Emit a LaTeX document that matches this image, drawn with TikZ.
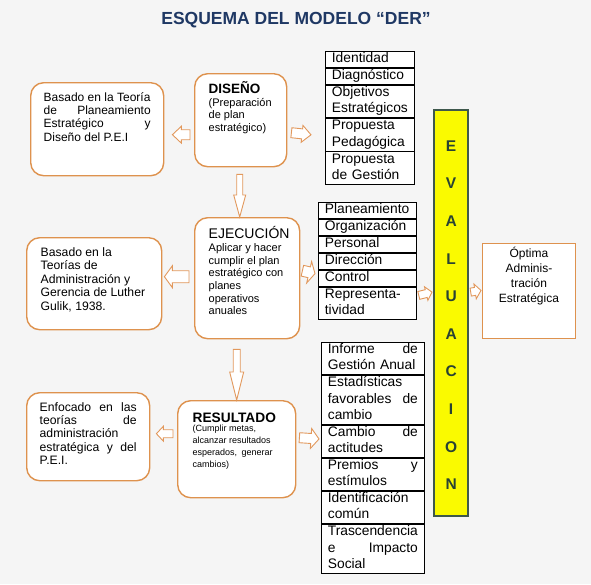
\documentclass[tikz,border=0pt]{standalone}
\usepackage{fontspec}
\setmainfont{Liberation Sans}
\usepackage{tikz}
\usetikzlibrary{positioning, calc}
\definecolor{navy}{RGB}{31, 56, 100}
\definecolor{rim}{RGB}{222, 146, 78}
\definecolor{tip}{RGB}{226, 152, 92}
\definecolor{evalfill}{RGB}{250, 250, 0}
\definecolor{evalrim}{RGB}{62, 88, 76}
\definecolor{evaltext}{RGB}{40, 66, 52}
\definecolor{paper}{RGB}{245, 245, 245}
\newcommand{\boxtext}[3]{\parbox[c][#2][t]{#1}{\raggedright\rule{0pt}{13pt}#3}}
\hyphenpenalty=10000

\begin{document}
\begin{tikzpicture}[x=1pt, y=-1pt,
  rbox/.style={draw=rim, line width=1.4pt, rounded corners=13pt, fill=white, anchor=north west},
  cell/.style={draw, line width=0.8pt, fill=white, text width=#1, inner xsep=6.5pt, inner ysep=0pt,
               align=left, font=\fontsize{13.8}{16.2}\selectfont,
               execute at begin node=\strut, execute at end node=\strut},
  hollow/.style n args={3}{draw=tip, line width=0.9pt, fill=white,
    to path={let \p1=(\tikztostart), \p2=(\tikztotarget),
      \n1={veclen(\x2-\x1,\y2-\y1)}, \n2={(\x2-\x1)/\n1}, \n3={(\y2-\y1)/\n1} in
      ({\x1-\n3*#1},{\y1+\n2*#1})
      -- ({\x1+(\n1-#3)*\n2-\n3*#1},{\y1+(\n1-#3)*\n3+\n2*#1})
      -- ({\x1+(\n1-#3)*\n2-\n3*#2},{\y1+(\n1-#3)*\n3+\n2*#2})
      -- (\p2)
      -- ({\x1+(\n1-#3)*\n2+\n3*#2},{\y1+(\n1-#3)*\n3-\n2*#2})
      -- ({\x1+(\n1-#3)*\n2+\n3*#1},{\y1+(\n1-#3)*\n3-\n2*#1})
      -- ({\x1+\n3*#1},{\y1-\n2*#1}) -- cycle}}]
  \fill[paper] (0,0) rectangle (591,584);
  \useasboundingbox (0,0) rectangle (591,584);

  \node[font=\fontsize{17.5}{20}\selectfont\bfseries, text=navy] (title) at (296,20) {ESQUEMA DEL MODELO “DER”};

  \node[rbox, inner xsep=13pt, inner ysep=5.5pt, font=\fontsize{12}{13.3}\selectfont] (basadoA) at (30,82)
    {\boxtext{107pt}{82pt}{Basado en la Teoría\\ de\hfill Planeamiento\\ Estratégico\hfill y\\ Diseño del P.E.I}};
  \node[rbox, inner xsep=14pt, inner ysep=6.8pt, font=\fontsize{11}{12.7}\selectfont] (diseno) at (194,73)
    {\boxtext{64pt}{79.4pt}{{\fontsize{13.5}{13}\selectfont\bfseries DISEÑO\par}(Preparación\\ de plan\\ estratégico)}};
  \node[rbox, inner xsep=14pt, inner ysep=8pt, font=\fontsize{11}{12.7}\selectfont] (ejec) at (194,217)
    {\boxtext{77pt}{105pt}{{\fontsize{14}{14}\selectfont EJECUCIÓN\par}Aplicar y hacer\\ cumplir el plan\\ estratégico con\\ planes\\ operativos\\ anuales}};
  \node[rbox, inner xsep=14pt, inner ysep=5.5pt, font=\fontsize{12.2}{13.5}\selectfont] (basadoB) at (26,237)
    {\boxtext{107pt}{81pt}{Basado en la\\ Teorías de\\ Administración y\\ Gerencia de Luther\\ Gulik, 1938.}};
  \node[rbox, inner xsep=13pt, inner ysep=5.5pt, font=\fontsize{12.2}{13.3}\selectfont] (basadoC) at (26,392)
    {\boxtext{97pt}{77pt}{Enfocado\hfill en\hfill las\\ teorías\hfill de\\ administración\\ estratégica\hfill y\hfill del\\ P.E.I.}};
  \node[rbox, inner xsep=15pt, inner ysep=9pt, font=\fontsize{9}{12}\selectfont] (res) at (177,400)
    {\boxtext{88pt}{79pt}{{\fontsize{13.7}{14}\selectfont\bfseries RESULTADO\par}\vspace{-3pt}\parbox[t]{80pt}{\raggedright (Cumplir metas,\\ alcanzar resultados\\ esperados,\hfill generar\\ cambios)}}};

  \node[cell=76pt, anchor=north west] (ident) at (325,51) {Identidad};
  \node[cell=76pt, below=0pt of ident] (diagn) {Diagnóstico};
  \node[cell=76pt, below=0pt of diagn] (objet) {Objetivos\\ Estratégicos};
  \node[cell=76pt, below=0pt of objet] (ppeda) {Propuesta\\ Pedagógica};
  \node[cell=76pt, below=0pt of ppeda] (pgest) {Propuesta\\ de Gestión};

  \node[cell=85pt, anchor=north west] (plane) at (318,202) {Planeamiento};
  \node[cell=85pt, below=0pt of plane] (organ) {Organización};
  \node[cell=85pt, below=0pt of organ] (perso) {Personal};
  \node[cell=85pt, below=0pt of perso] (direc) {Dirección};
  \node[cell=85pt, below=0pt of direc] (contr) {Control};
  \node[cell=85pt, below=0pt of contr] (repre) {Representa-\\ tividad};

  \node[cell=90pt, anchor=north west] (infor) at (321,342) {Informe\hfill de\\ Gestión Anual};
  \node[cell=90pt, below=0pt of infor] (estad) {Estadísticas\\ favorables\hfill de\\ cambio};
  \node[cell=90pt, below=0pt of estad] (cambi) {Cambio\hfill de\\ actitudes};
  \node[cell=90pt, below=0pt of cambi] (premi) {Premios\hfill y\\ estímulos};
  \node[cell=90pt, below=0pt of premi] (comun) {Identificación\\ común};
  \node[cell=90pt, below=0pt of comun] (trasc) {Trascendencia\\ e\hfill Impacto\\ Social};

  \node[draw=evalrim, line width=2.2pt, fill=evalfill, minimum width=34pt, minimum height=406pt,
        inner sep=0pt, anchor=north west] (eval) at (433,109) {};
  \node[text=evaltext, font=\fontsize{15.5}{37.6}\selectfont\bfseries, align=center, inner sep=0pt]
    (evalword) at ([yshift=-2pt]eval.center) {E\\V\\A\\L\\U\\A\\C\\I\\O\\N};

  \node[draw=rim, line width=0.9pt, fill=white, anchor=north west, inner xsep=6pt, inner ysep=1.5pt,
        font=\fontsize{12}{14.7}\selectfont] (optima) at (482,243)
    {\boxtext{81pt}{92pt}{\centering Óptima\\ Adminis-\\ tración\\ Estratégica}};

  \draw[hollow={5pt}{8.5pt}{9pt}] ([xshift=-4pt, yshift=-14.5pt]diseno.west) to ([xshift=8pt, yshift=-5.5pt]basadoA.east);
  \draw[hollow={5pt}{8.5pt}{9pt}] ([xshift=4pt, yshift=-12.5pt]diseno.east) to ([xshift=-14pt]ppeda.west);
  \draw[hollow={3pt}{6pt}{22pt}] ([xshift=-1pt, yshift=-7pt]diseno.south) to ([xshift=-7.5pt]ejec.north);
  \draw[hollow={6pt}{11pt}{8pt}] ([xshift=-5pt, yshift=1.5pt]ejec.west) to ([xshift=2pt, yshift=7pt]basadoB.east);
  \draw[hollow={5.5pt}{11pt}{6pt}] ([xshift=2pt, yshift=7.5pt]ejec.east) to ([xshift=-3pt, yshift=4.9pt]contr.west);
  \draw[hollow={3.5pt}{7pt}{28pt}] ([xshift=-10.5pt, yshift=-10pt]ejec.south) to (res.north);
  \draw[hollow={4pt}{7.5pt}{7pt}] ([xshift=-4pt, yshift=15.5pt]res.west) to ([xshift=6pt, yshift=3pt]basadoC.east);
  \draw[hollow={5pt}{10pt}{8pt}] ([xshift=3pt, yshift=11.5pt]res.east) to ([xshift=-2pt, yshift=2.2pt]cambi.west);
  \draw[hollow={4pt}{7pt}{6pt}] ([xshift=2pt, yshift=8.2pt]repre.east) to ([xshift=-1pt, yshift=21pt]eval.west);
  \draw[hollow={4pt}{7.5pt}{6pt}] ([xshift=1.5pt, yshift=21pt]eval.east) to ([xshift=-1pt, yshift=0.5pt]optima.west);
\end{tikzpicture}
\end{document}
